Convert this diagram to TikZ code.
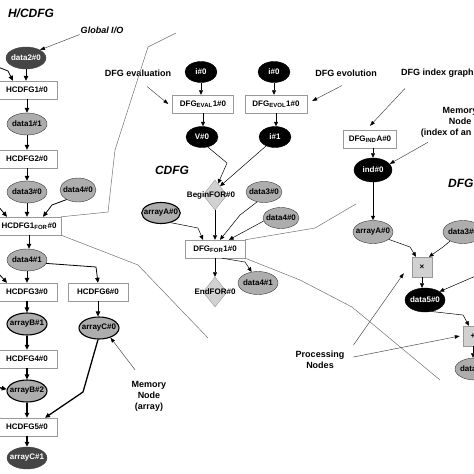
\documentclass[tikz,border=0pt]{standalone}
\usepackage{fontspec}
\setmainfont{Liberation Sans}
\usetikzlibrary{shapes.geometric,arrows.meta}

\definecolor{nodegrey}{gray}{0.68}
\definecolor{darkfill}{gray}{0.27}
\definecolor{boxline}{gray}{0.6}
\definecolor{opfill}{gray}{0.82}
\definecolor{zoomgrey}{gray}{0.45}

\tikzset{
    lbl/.style={font=\fontsize{8}{9}\selectfont\bfseries},
    box/.style={lbl, draw=boxline, fill=white, minimum width=60pt, minimum height=18pt, inner sep=1pt},
    grey/.style={lbl, ellipse, draw=gray!45!black, fill=nodegrey, minimum width=40pt, minimum height=22pt, inner xsep=-3.5pt, inner ysep=0pt},
    mem/.style={grey, draw=black, line width=1.1pt},
    dark/.style={grey, draw=darkfill, fill=darkfill, text=white},
    blk/.style={grey, draw=black, fill=black, text=white, minimum width=32pt, minimum height=21pt},
    cond/.style={diamond, draw=boxline, fill=opfill, minimum width=24pt, minimum height=30pt, inner sep=0pt},
    op/.style={lbl, draw=boxline, fill=opfill, minimum size=20pt, inner sep=0pt},
    note/.style={font=\fontsize{9}{11}\selectfont\bfseries, inner sep=1pt, align=center},
    title/.style={font=\fontsize{12}{14}\selectfont\bfseries\itshape, inner sep=1pt},
    flow/.style={-{Triangle[length=5pt,width=4.5pt]}, line width=0.8pt},
    link/.style={-{Triangle[length=4.5pt,width=4pt]}, line width=0.5pt},
    notearr/.style={-{Triangle[length=5pt,width=3.5pt,color=black]}, draw=gray!60!black, line width=0.5pt},
    zoomline/.style={draw=zoomgrey, line width=0.5pt},
}

\begin{document}
\begin{tikzpicture}[x=1pt,y=-1pt]
    % Frame
    \useasboundingbox (0,0) rectangle (474,474);
    \fill[white] (0,0) rectangle (474,474);
    \clip (0,0) rectangle (474,474);

    % Titles and notes
    \node[title] (thcdfg) at (31,13) {H/CDFG};
    \node[title] (tcdfg) at (172,170) {CDFG};
    \node[title, anchor=west] (tdfg) at (447,183) {DFG};
    \node[note, font=\fontsize{9}{11}\selectfont\bfseries\itshape] (tgio) at (102,30) {Global I/O};
    \node[note] (teval) at (138,73) {DFG evaluation};
    \node[note] (tevol) at (346,73) {DFG evolution};
    \node[note, anchor=west] (tind) at (400,73) {DFG index graph};
    \node[note] (tmemind) at (460,122) {Memory\\Node\\(index of an array)};
    \node[note] (tmemarr) at (149,396) {Memory\\Node\\(array)};
    \node[note] (tproc) at (320,360) {Processing\\Nodes};

    % H/CDFG column
    \node[dark] (d2) at (26,58) {data2\#0};
    \node[box] (h1) at (27,90) {HCDFG1\#0};
    \node[grey] (d11) at (27,124) {data1\#1};
    \node[box] (h2) at (27,159) {HCDFG2\#0};
    \node[grey] (d30) at (27,192) {data3\#0};
    \node[grey, minimum width=36pt, minimum height=24pt] (d40) at (78,190) {data4\#0};
    \node[box, minimum width=64pt] (hf) at (29,226) {HCDFG1\textsubscript{FOR}\#0};
    \node[grey] (d41) at (27,260) {data4\#1};
    \node[box] (h3) at (27,292) {HCDFG3\#0};
    \node[box] (h6) at (98,292) {HCDFG6\#0};
    \node[mem] (b1) at (27,324) {arrayB\#1};
    \node[mem] (c0) at (99,328) {arrayC\#0};
    \node[box] (h4) at (27,359) {HCDFG4\#0};
    \node[mem] (b2) at (27,391) {arrayB\#2};
    \node[box] (h5) at (27,427) {HCDFG5\#0};
    \node[dark] (c1) at (27,458) {arrayC\#1};

    % CDFG
    \node[blk] (ia) at (201,72) {i\#0};
    \node[blk] (ib) at (274,72) {i\#0};
    \node[box, minimum width=61pt] (eval) at (203,104) {DFG\textsubscript{EVAL}1\#0};
    \node[box, minimum width=62pt] (evol) at (276,104) {DFG\textsubscript{EVOL}1\#0};
    \node[blk] (v0) at (202,137) {V\#0};
    \node[blk] (i1) at (275,137) {i\#1};
    \node[cond, label={[lbl, xshift=-4pt]center:BeginFOR\#0}] (bfor) at (215,195) {};
    \node[grey, minimum width=36pt, minimum height=21pt] (d3m) at (264,192) {data3\#0};
    \node[mem, minimum width=38pt, minimum height=21pt] (arAm) at (161,213) {arrayA\#0};
    \node[grey, minimum width=36pt, minimum height=21pt] (d4m) at (281,218) {data4\#0};
    \node[box] (dfor) at (215,249) {DFG\textsubscript{FOR}1\#0};
    \node[cond, label={[lbl]center:EndFOR\#0}] (efor) at (215,292) {};
    \node[grey, minimum height=23pt] (d41m) at (258,283) {data4\#1};

    % DFG
    \node[box, minimum width=53pt] (dind) at (370,139) {DFG\textsubscript{IND}A\#0};
    \node[blk, minimum width=38pt, minimum height=24pt] (ind) at (373,170) {ind\#0};
    \node[grey, minimum height=23pt] (arA) at (373,232) {arrayA\#0};
    \node[grey, minimum height=23pt] (d3r) at (463,232) {data3\#0};
    \node[op] (mul) at (422,267) {×};
    \node[blk, minimum width=40pt, minimum height=24pt] (d5) at (425,300) {data5\#0};
    \node[op] (add) at (473,336) {+};
    \node[grey] (d6) at (475,369) {data\phantom{6\#0}};

    % Zoom lines
    \draw[zoomline] (176,33) -- (148,47) -- (115,150) -- (108,212) -- (hf.north east);
    \draw[zoomline] (hf.south east) -- (138,265) -- (208,338);
    \draw[zoomline] (dfor.north east) -- (315,228) -- (356,204);
    \draw[zoomline] (dfor.south east) -- (300,280) -- (352,307) -- (440,380);

    % H/CDFG edges
    \foreach \a/\b in {d2/h1, h1/d11, d11/h2, h2/d30, d30/hf, hf/d41, d41/h3}
        \draw[flow] (\a.south) -- (\a.south |- \b.north);
    \foreach \a/\b in {h3/b1, b1/h4, h4/b2, b2/h5, h5/c1}
        \draw[flow, line width=1.3pt] (\a.south) -- (\a.south |- \b.north);
    \draw[flow] (d40.220) -- (52,205) -- ([xshift=14pt]hf.north);
    \draw[flow] (d41.-10) -- (96,267) -- (h6.north);
    \draw[flow] (h6.south) -- (h6.south |- c0.north);
    \draw[flow, line width=1.3pt] (c0.-95) -- (83,392) -- ([xshift=18pt]h5.north);
    \coordinate (in1) at (-2,67);
    \coordinate (in2) at (-2,206);
    \coordinate (in3) at (-2,273);
    \coordinate (in4) at (-8,386);
    \draw[flow] (in1) -- (8,71) -- ([xshift=-14pt]h1.north);
    \draw[flow] (in2) -- ([xshift=-22pt]hf.north);
    \draw[flow] (in3) -- ([xshift=-20pt]h3.north);
    \draw[flow, line width=1.3pt] (in4) -- (b2.175);

    % CDFG edges
    \foreach \a/\b in {ia/eval, eval/v0, ib/evol, evol/i1}
        \draw[link] (\a.south) -- (\a.south |- \b.north);
    \draw[link] (v0.-60) -- (227,163) -- (bfor.75);
    \draw[link] (i1.225) -- (bfor.60);
    \draw[link] (bfor.south) -- (bfor.south |- dfor.north);
    \draw[link] (d3m.235) -- (240,215) -- ([xshift=5pt]dfor.north);
    \draw[link] (arAm.-45) -- (198,228) -- ([xshift=-12pt]dfor.north);
    \draw[link] (d4m.190) -- ([xshift=14pt]dfor.north);
    \draw[link] (dfor.south) -- (efor.north);
    \draw[link] ([xshift=7pt]dfor.south) -- (245,262) -- (d41m.120);

    % DFG edges
    \draw[link] (ind.north |- dind.south) -- (ind.north);
    \draw[link] (ind.south) -- (arA.north);
    \draw[link] (arA.-25) -- (410,247) -- ([xshift=-6pt]mul.north);
    \draw[link] (d3r.215) -- (443,247) -- ([xshift=7pt]mul.north);
    \draw[link] (mul.south) -- (mul.south |- d5.north);
    \coordinate (in5) at (478,275);
    \draw[link] (in5) -- (d5.30);
    \draw[link] (d5.-60) -- (463,315) -- ([xshift=-4pt]add.north);
    \draw[link] (add.south) -- (add.south |- d6.north);

    % Note arrows
    \draw[notearr] (tgio.south west) -- (d2.30);
    \draw[notearr] ([xshift=9pt,yshift=-9pt]teval.south) -- ([xshift=-4pt]eval.west);
    \draw[notearr] ([xshift=-4pt,yshift=-8pt]tevol.south) -- ([xshift=5pt,yshift=3pt]evol.east);
    \draw[notearr] ([xshift=5pt,yshift=-10pt]tind.south west) -- ([yshift=4pt]dind.north);
    \draw[notearr] ([xshift=-32pt,yshift=-4pt]tmemind.south) -- (ind.20);
    \draw[notearr] ([xshift=-14pt,yshift=10pt]tmemarr.north) -- (c0.-40);
    \draw[notearr] ([xshift=8pt,yshift=5pt]tproc.north east) -- ([xshift=-8pt,yshift=4pt]mul.south west);
    \draw[notearr] ([xshift=8pt,yshift=3pt]tproc.east) -- ([xshift=-3pt]add.west);
\end{tikzpicture}
\end{document}
